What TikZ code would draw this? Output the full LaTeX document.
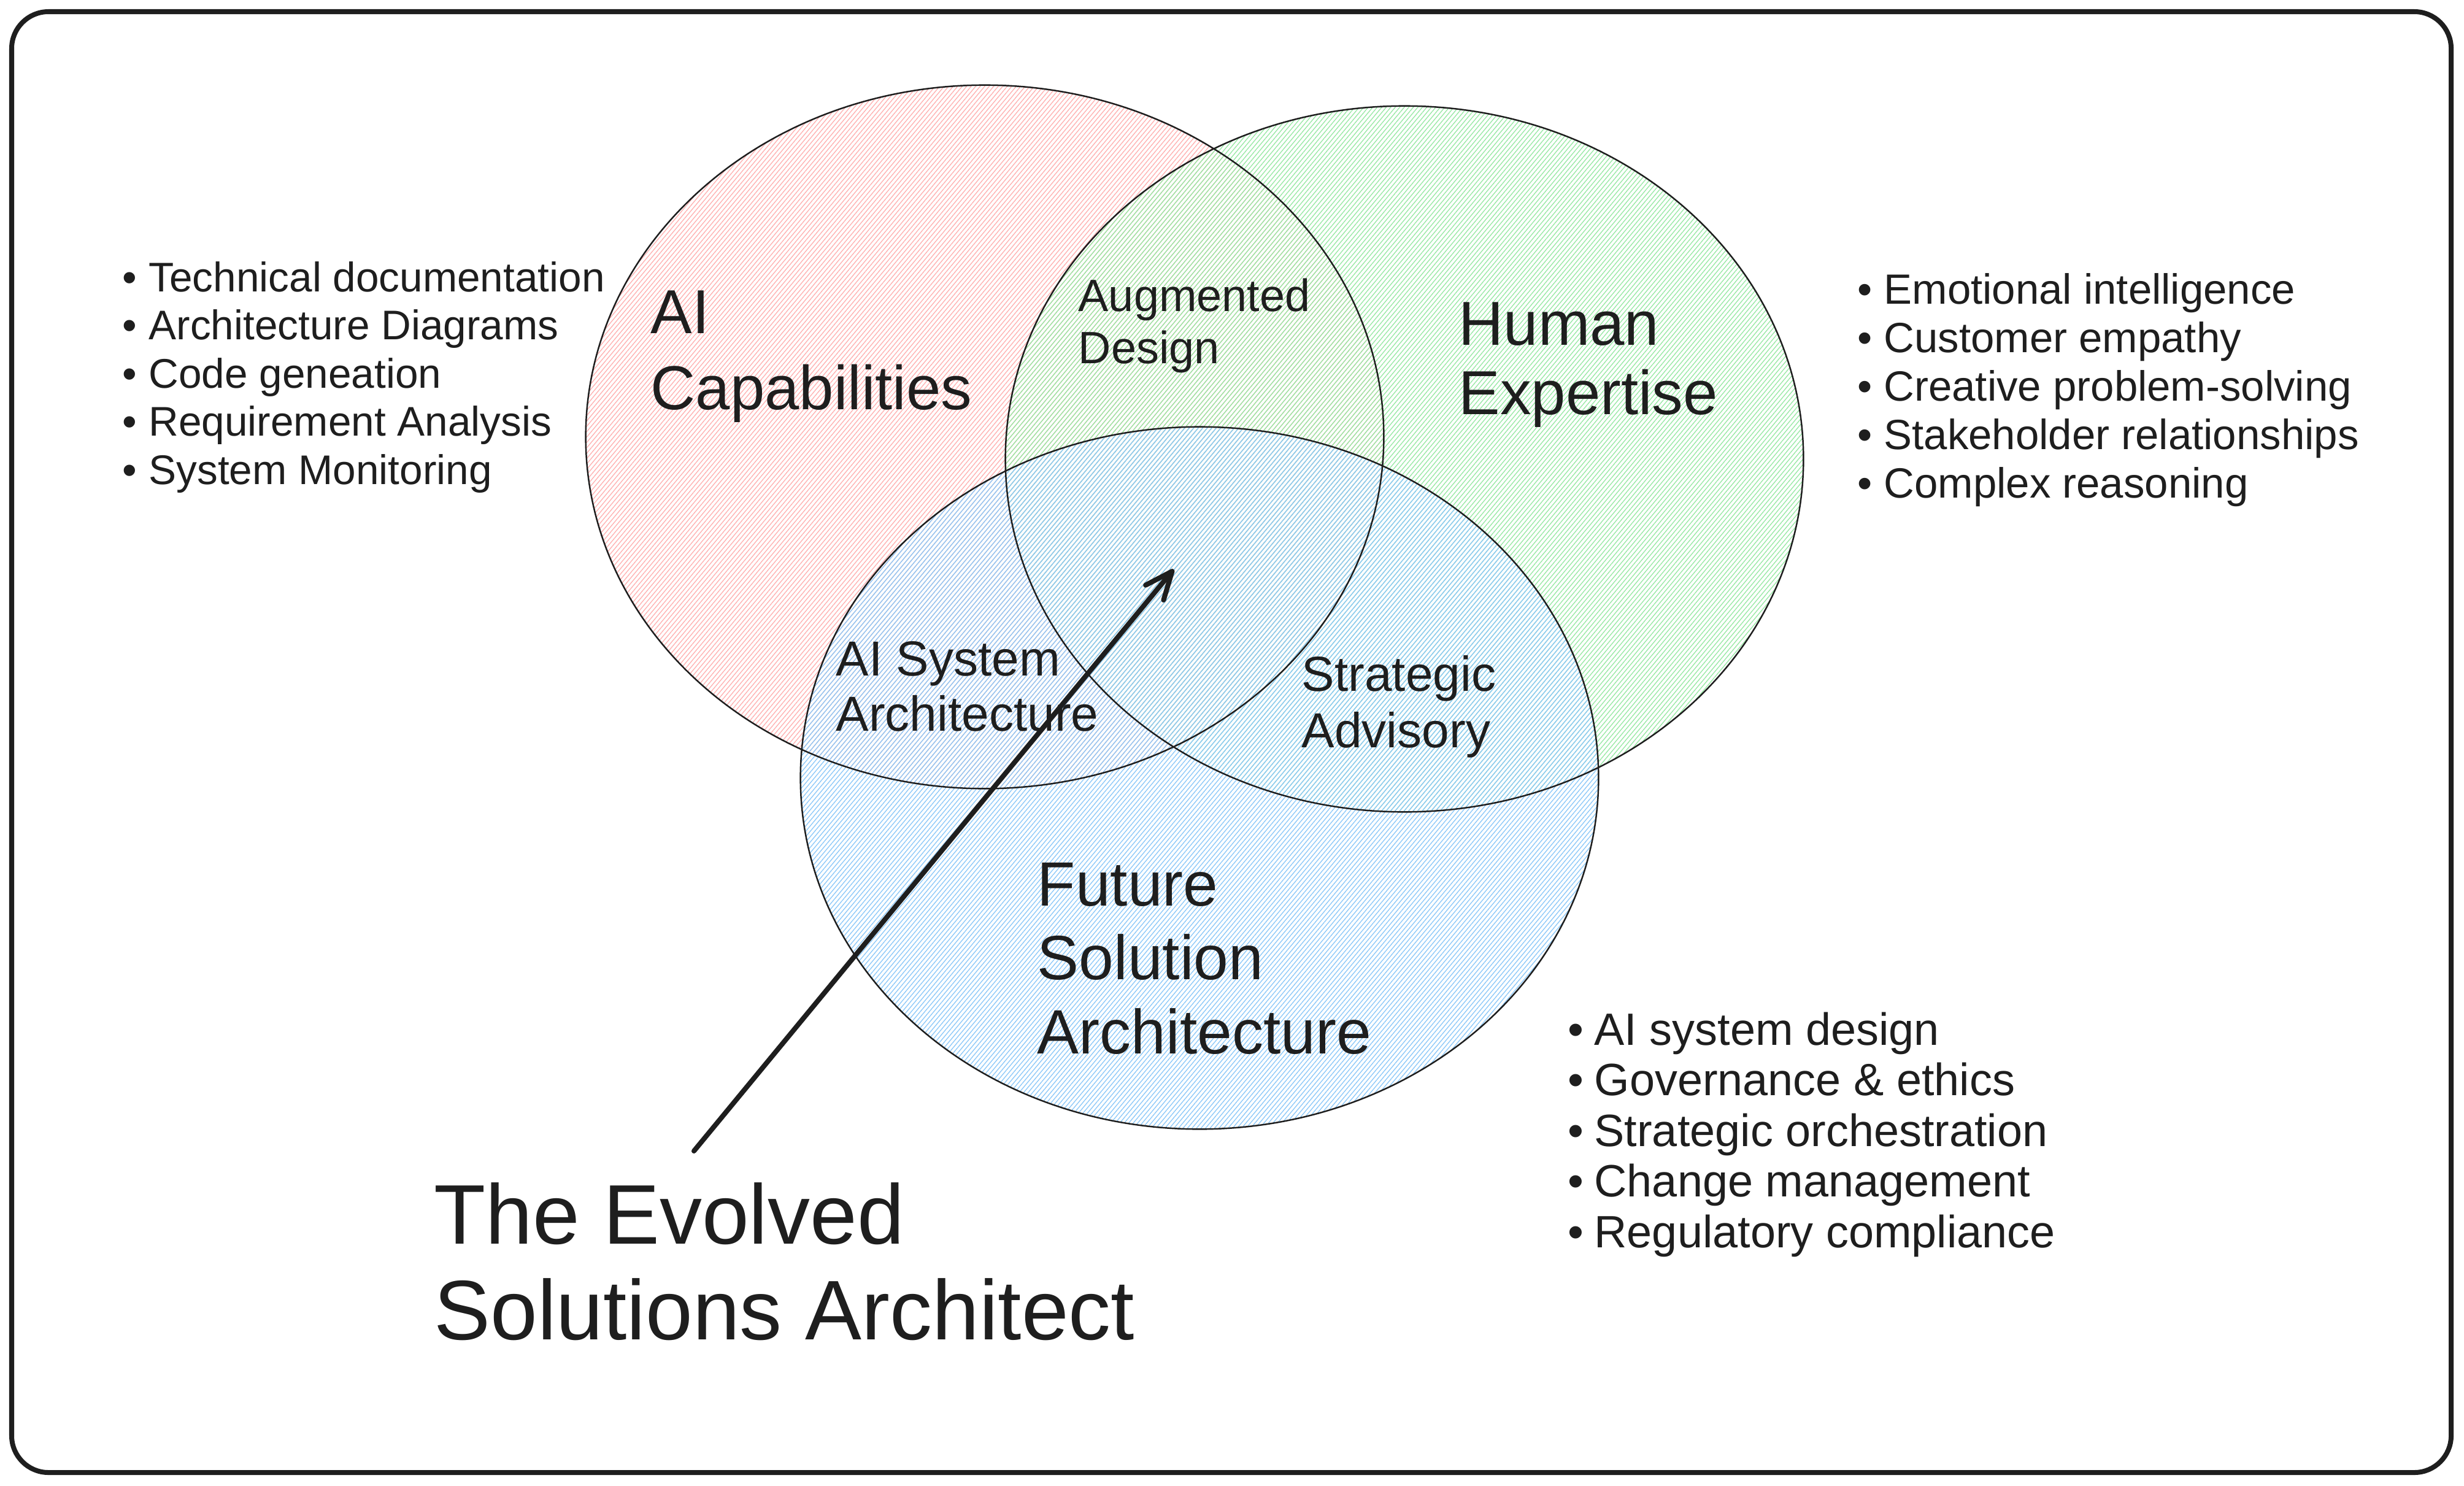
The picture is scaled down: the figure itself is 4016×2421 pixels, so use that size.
\documentclass[tikz,border=0pt]{standalone}
\usepackage{fontspec}
\setmainfont{Liberation Sans}
\usetikzlibrary{arrows.meta,patterns.meta}
\definecolor{ink}{HTML}{1E1E1E}
\definecolor{hred}{HTML}{FFB0B0}
\definecolor{hgreen}{HTML}{98E8A4}
\definecolor{hblue}{HTML}{8CC8F8}
\newcommand\bul{\makebox[12.2pt][l]{•}}
\newcommand\stk[1]{\begin{tabular}[t]{@{}l@{}}#1\end{tabular}}
\begin{document}
\begin{tikzpicture}[x=0.01cm,y=-0.01cm,
  txt/.style={anchor=base west, inner sep=0pt, text=ink},
  lstA/.style={txt, font=\fontsize{19.2}{23}\selectfont},
  lstB/.style={txt, font=\fontsize{19.6}{23}\selectfont},
  lstC/.style={txt, font=\fontsize{21}{24}\selectfont},
  hatch/.style={pattern={Lines[angle=50,distance=1.6pt,line width=0.38pt]}, pattern color=#1},
  venn/.style={draw=ink, line width=0.7pt}]
\useasboundingbox (0,0) rectangle (4016,2421);
\draw[ink, line width=0.08cm, rounded corners=0.6cm] (19,19) rectangle (3995,2400);

% fills
\path[hatch=hred] (1605,712) ellipse [x radius=6.5cm, y radius=5.73cm];
\path[hatch=hgreen] (2289,748) ellipse [x radius=6.5cm, y radius=5.75cm];
\path[hatch=hblue] (1955,1268) ellipse [x radius=6.5cm, y radius=5.72cm];
% outlines
\draw[venn] (1605,712) ellipse [x radius=6.5cm, y radius=5.73cm];
\draw[venn] (2289,748) ellipse [x radius=6.5cm, y radius=5.75cm];
\draw[venn] (1955,1268) ellipse [x radius=6.5cm, y radius=5.72cm];

% lists
\foreach \t [count=\i] in {Technical documentation, Architecture Diagrams, Code geneation, Requirement Analysis, System Monitoring}
  \node[lstA] (ail\i) at (199, {475+78.5*(\i-1)}) {\bul\t};
\foreach \t [count=\i] in {Emotional intelligence, Customer empathy, Creative problem-solving, Stakeholder relationships, Complex reasoning}
  \node[lstB] (hul\i) at (3027, {495+79*(\i-1)}) {\bul\t};
\foreach \t [count=\i] in {AI system design, Governance \& ethics, Strategic orchestration, Change management, Regulatory compliance}
  \node[lstC] (ful\i) at (2555, {1703+82.5*(\i-1)}) {\bul\t};

% labels
\node[txt, font=\fontsize{28.8}{35.3}\selectfont] (capAI) at (1060,543) {\stk{AI\\Capabilities}};
\node[txt, font=\fontsize{21}{24.2}\selectfont] (augD) at (1757,507) {\stk{Augmented\\Design}};
\node[txt, font=\fontsize{28.8}{32.2}\selectfont] (humE) at (2377,562) {\stk{Human\\Expertise}};
\node[txt, font=\fontsize{22.8}{25.6}\selectfont] (aiSys) at (1362,1101) {\stk{AI System\\Architecture}};
\node[txt, font=\fontsize{22.8}{26.2}\selectfont] (strat) at (2121,1126) {\stk{Strategic\\Advisory}};
\node[txt, font=\fontsize{29}{34.4}\selectfont] (fut) at (1690,1476) {\stk{Future\\Solution\\Architecture}};
\node[txt, font=\fontsize{39.2}{44.4}\selectfont] (evo) at (707,2027) {\stk{The Evolved\\Solutions Architect}};

% arrow
\coordinate (tail) at (1131,1876);
\coordinate (tip) at (1913,928);
\draw[ink, line width=2.3pt, line cap=round,
  -{Straight Barb[length=0.45cm,width=0.38cm,line cap=round,line join=round]}] (tail) -- (tip);
\end{tikzpicture}
\end{document}
